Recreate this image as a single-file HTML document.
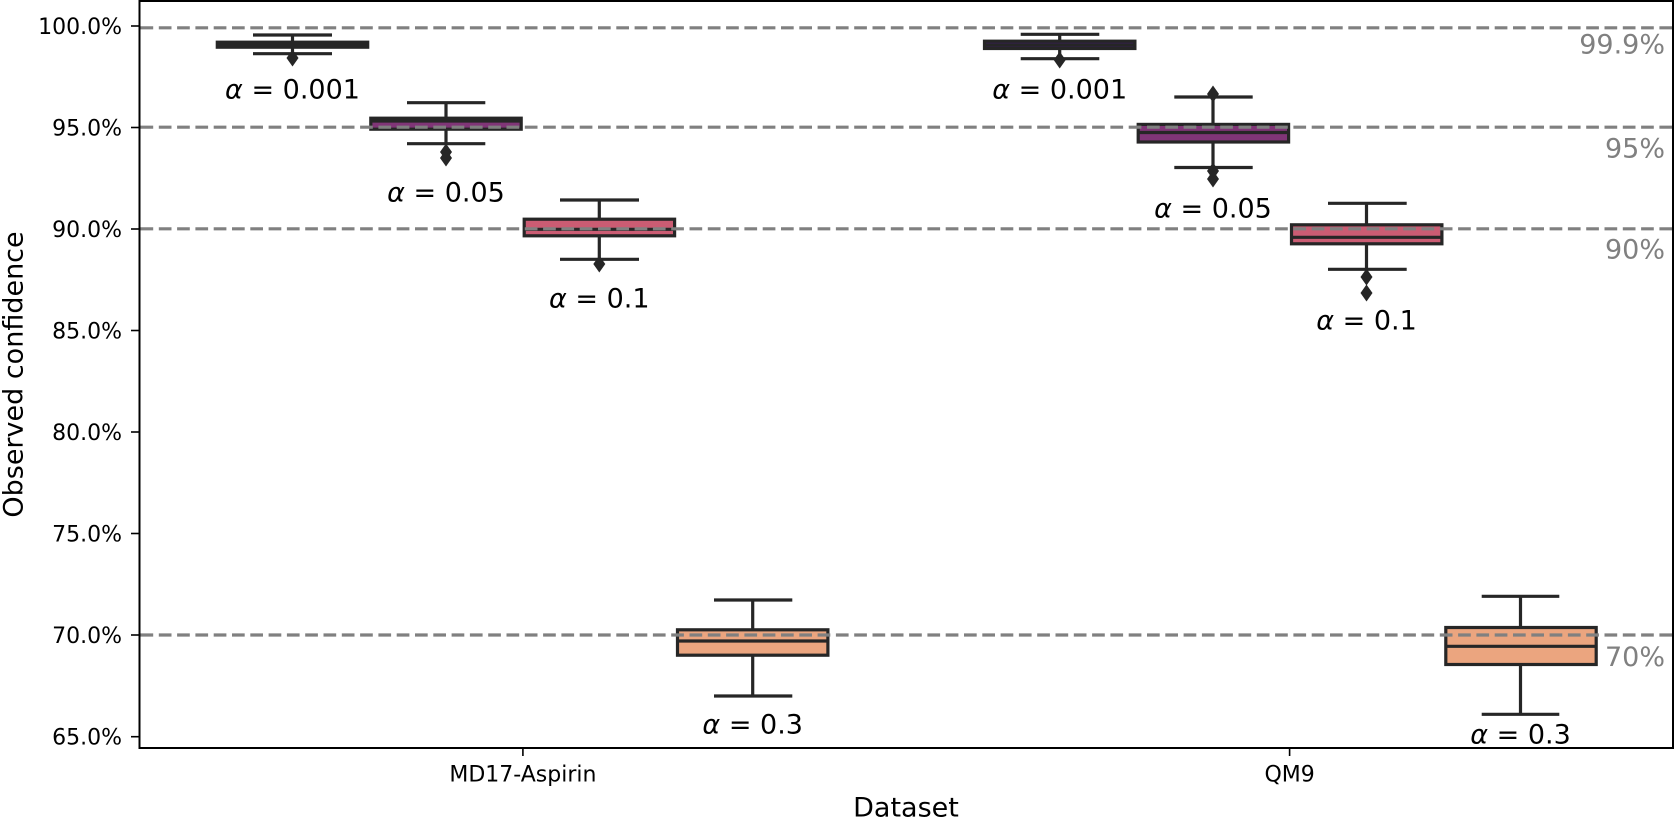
<!DOCTYPE html>
<html><head><meta charset="utf-8">
<style>
html,body{margin:0;padding:0;background:#fff;overflow:hidden;}
svg{display:block;}
text{font-family:"DejaVu Sans","Liberation Sans",sans-serif;}
</style></head>
<body>
<svg width="1675" height="817" viewBox="0 0 1675 817" xmlns="http://www.w3.org/2000/svg">
<rect width="1675" height="817" fill="#fff"/>

<g stroke="#262626" stroke-width="3.2" fill="none">
<!-- MD17 B1 -->
<line x1="292.5" y1="35" x2="292.5" y2="53.7"/>
<line x1="253" y1="35" x2="332" y2="35"/>
<line x1="253" y1="53.7" x2="332" y2="53.7"/>
<rect x="217.3" y="42.2" width="150.4" height="5" fill="#3c1b63"/>
<line x1="217.3" y1="45" x2="367.7" y2="45"/>
<!-- MD17 B2 -->
<line x1="446" y1="102.7" x2="446" y2="143.7"/>
<line x1="407" y1="102.7" x2="485.3" y2="102.7"/>
<line x1="407" y1="143.7" x2="485.3" y2="143.7"/>
<rect x="370.8" y="118.2" width="150.4" height="11" fill="#803577"/>
<line x1="370.8" y1="121" x2="521.2" y2="121"/>
<!-- MD17 B3 -->
<line x1="599.3" y1="200" x2="599.3" y2="259.3"/>
<line x1="560" y1="200" x2="639" y2="200"/>
<line x1="560" y1="259.3" x2="639" y2="259.3"/>
<rect x="524.2" y="219.2" width="150.4" height="16.6" fill="#cb5c73"/>
<line x1="524.2" y1="229.3" x2="674.6" y2="229.3"/>
<!-- MD17 B4 -->
<line x1="752.7" y1="600" x2="752.7" y2="696"/>
<line x1="714" y1="600" x2="792.3" y2="600"/>
<line x1="714" y1="696" x2="792.3" y2="696"/>
<rect x="677.5" y="629.8" width="150.4" height="25.4" fill="#eba57f"/>
<line x1="677.5" y1="641" x2="827.9" y2="641"/>

<!-- QM9 B1 -->
<line x1="1059.7" y1="34.3" x2="1059.7" y2="58.7"/>
<line x1="1020.7" y1="34.3" x2="1099.3" y2="34.3"/>
<line x1="1020.7" y1="58.7" x2="1099.3" y2="58.7"/>
<rect x="984.5" y="41.2" width="150.4" height="7.3" fill="#3c1b63"/>
<line x1="984.5" y1="45" x2="1134.9" y2="45"/>
<!-- QM9 B2 -->
<line x1="1213" y1="97" x2="1213" y2="167.5"/>
<line x1="1174.3" y1="97" x2="1252.7" y2="97"/>
<line x1="1174.3" y1="167.5" x2="1252.7" y2="167.5"/>
<rect x="1138.2" y="124.4" width="150.4" height="17.6" fill="#803577"/>
<line x1="1138.2" y1="132.5" x2="1288.6" y2="132.5"/>
<!-- QM9 B3 -->
<line x1="1366.5" y1="203.3" x2="1366.5" y2="269.3"/>
<line x1="1328" y1="203.3" x2="1406.7" y2="203.3"/>
<line x1="1328" y1="269.3" x2="1406.7" y2="269.3"/>
<rect x="1291.5" y="224.8" width="150.4" height="19" fill="#cb5c73"/>
<line x1="1291.5" y1="237.3" x2="1441.9" y2="237.3"/>
<!-- QM9 B4 -->
<line x1="1520.5" y1="596.3" x2="1520.5" y2="714.3"/>
<line x1="1481.7" y1="596.3" x2="1559.3" y2="596.3"/>
<line x1="1481.7" y1="714.3" x2="1559.3" y2="714.3"/>
<rect x="1445.8" y="627.5" width="150.4" height="37" fill="#eba57f"/>
<line x1="1445.8" y1="646.3" x2="1596.2" y2="646.3"/>
</g>

<!-- outliers -->
<g fill="#262626">
<path d="M292.5,49.5 L298.5,58 L292.5,66.5 L286.5,58 Z"/>
<path d="M446,143.5 L452,152 L446,160.5 L440,152 Z"/>
<path d="M446,149.5 L452,158 L446,166.5 L440,158 Z"/>
<path d="M599.3,255.5 L605.3,264 L599.3,272.5 L593.3,264 Z"/>
<path d="M1059.7,51.5 L1065.7,60 L1059.7,68.5 L1053.7,60 Z"/>
<path d="M1213,85.5 L1219,94 L1213,102.5 L1207,94 Z"/>
<path d="M1213,162.5 L1219,171 L1213,179.5 L1207,171 Z"/>
<path d="M1213,170.5 L1219,179 L1213,187.5 L1207,179 Z"/>
<path d="M1366.5,268.5 L1372.5,277 L1366.5,285.5 L1360.5,277 Z"/>
<path d="M1366.5,284.5 L1372.5,293 L1366.5,301.5 L1360.5,293 Z"/>
</g>

<!-- dashed reference lines -->
<g stroke="#808080" stroke-width="3.2" stroke-dasharray="12.7 5.6" fill="none">
<line x1="140.5" y1="27.8" x2="1672" y2="27.8"/>
<line x1="140.5" y1="127.2" x2="1672" y2="127.2"/>
<line x1="140.5" y1="228.8" x2="1672" y2="228.8"/>
<line x1="140.5" y1="635" x2="1672" y2="635"/>
</g>

<!-- right gray labels -->
<g fill="#808080" font-size="27" text-anchor="end">
<text x="1665" y="53.3">99.9%</text>
<text x="1665" y="157.3">95%</text>
<text x="1665" y="258.7">90%</text>
<text x="1665" y="666">70%</text>
</g>

<!-- alpha labels -->
<g fill="#000" font-size="27" text-anchor="middle">
<text x="292.5" y="98.3"><tspan font-style="italic">α</tspan> = 0.001</text>
<text x="446" y="201.7"><tspan font-style="italic">α</tspan> = 0.05</text>
<text x="599.3" y="307.7"><tspan font-style="italic">α</tspan> = 0.1</text>
<text x="752.7" y="733.3"><tspan font-style="italic">α</tspan> = 0.3</text>
<text x="1059.7" y="98.3"><tspan font-style="italic">α</tspan> = 0.001</text>
<text x="1213" y="217.3"><tspan font-style="italic">α</tspan> = 0.05</text>
<text x="1366.5" y="329.3"><tspan font-style="italic">α</tspan> = 0.1</text>
<text x="1520.5" y="743.3"><tspan font-style="italic">α</tspan> = 0.3</text>
</g>

<!-- spines -->
<rect x="139.5" y="1" width="1533.5" height="747" fill="none" stroke="#000" stroke-width="2"/>

<!-- y ticks -->
<g stroke="#000" stroke-width="1.6">
<line x1="131" y1="26" x2="139" y2="26"/>
<line x1="131" y1="127.5" x2="139" y2="127.5"/>
<line x1="131" y1="229" x2="139" y2="229"/>
<line x1="131" y1="330.5" x2="139" y2="330.5"/>
<line x1="131" y1="432" x2="139" y2="432"/>
<line x1="131" y1="533.5" x2="139" y2="533.5"/>
<line x1="131" y1="635" x2="139" y2="635"/>
<line x1="131" y1="736.7" x2="139" y2="736.7"/>
<line x1="522.9" y1="748" x2="522.9" y2="756"/>
<line x1="1289.6" y1="748" x2="1289.6" y2="756"/>
</g>
<g fill="#000" font-size="22" text-anchor="end">
<text x="122" y="33.8">100.0%</text>
<text x="122" y="135.3">95.0%</text>
<text x="122" y="236.8">90.0%</text>
<text x="122" y="338.3">85.0%</text>
<text x="122" y="439.8">80.0%</text>
<text x="122" y="541.3">75.0%</text>
<text x="122" y="642.8">70.0%</text>
<text x="122" y="744.5">65.0%</text>
</g>
<g fill="#000" font-size="22" text-anchor="middle">
<text x="522.9" y="781.7">MD17-Aspirin</text>
<text x="1289.6" y="781.7">QM9</text>
</g>
<text x="906" y="816.5" font-size="27" text-anchor="middle" fill="#000">Dataset</text>
<text transform="translate(22.5,374.5) rotate(-90)" font-size="27" text-anchor="middle" fill="#000">Observed confidence</text>
</svg>
</body></html>
